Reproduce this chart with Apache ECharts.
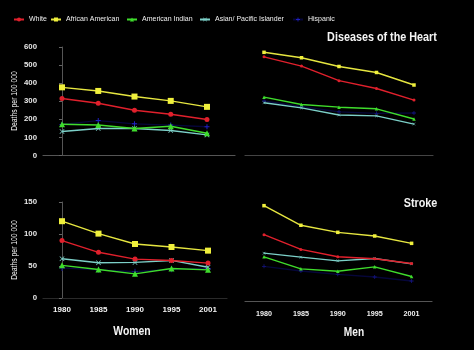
<!DOCTYPE html>
<html><head><meta charset="utf-8">
<script src="https://cdn.jsdelivr.net/npm/echarts@6/dist/echarts.min.js"></script>
<style>html,body{margin:0;padding:0;background:#000}#c{width:474px;height:350px}</style>
</head><body><div id="c"></div><script>
const years = ['1980', '1985', '1990', '1995', '2001'];
const groups = ['White', 'African American', 'American Indian', 'Asian/ Pacific Islander', 'Hispanic'];
const heartTicks = [0, 100, 200, 300, 400, 500, 600];
const strokeTicks = [0, 50, 100, 150];

// Women, diseases of the heart
const womenHeartWhite = [315, 289, 250, 228, 199];
const womenHeartAfrAm = [377, 357, 326, 302, 269];
const womenHeartAmInd = [173, 169, 149, 162, 123];
const womenHeartAsian = [133, 149, 149, 138, 114];
const womenHeartHisp  = [172, 193, 175, 168, 159];
// Men, diseases of the heart
const menHeartWhite = [543, 492, 412, 369, 305];
const menHeartAfrAm = [568, 538, 490, 457, 388];
const menHeartAmInd = [321, 281, 266, 257, 201];
const menHeartAsian = [290, 262, 223, 218, 173];
const menHeartHisp  = [300, 270, 240, 232, 234];
// Women, stroke
const womenStrokeWhite = [89.7, 71.4, 60.8, 58.7, 54.5];
const womenStrokeAfrAm = [120, 100.6, 84.4, 79.7, 74];
const womenStrokeAmInd = [51, 44.6, 37.7, 46, 44];
const womenStrokeAsian = [61.3, 55, 55.6, 58.7, 48];
const womenStrokeHisp  = [47, 44, 41, 45, 46];
// Men, stroke
const menStrokeWhite = [99.5, 77.4, 66.3, 63.3, 56.3];
const menStrokeAfrAm = [143, 113.6, 103, 97.5, 86.5];
const menStrokeAmInd = [66.3, 48.2, 44.7, 51.2, 36.7];
const menStrokeAsian = [71.8, 65.8, 60.2, 63.8, 55.7];
const menStrokeHisp  = [52, 45, 40, 36, 30];

const SANS = "'Liberation Sans',Arial,sans-serif";
const colors = ['#e0202c', '#f0f03c', '#3fdc2c', '#7cd0c8', '#2020c0'];
const lineColors = ['#e0202c', '#e6e640', '#3fdc2c', '#7cd0c8', '#06063a'];
const hispDark = '#14147e';
const plus = 'path://M4,0L6,0L6,4L10,4L10,6L6,6L6,10L4,10L4,6L0,6L0,4L4,4Z';
const cross = 'path://M1,0L5,4L9,0L10,1L6,5L10,9L9,10L5,6L1,10L0,9L4,5L0,1Z';
const symbols = ['circle', 'rect', 'triangle', cross, plus];
const bigSizes = [5, 6, 6, 5, 6];
const smallSizes = [3, 3.5, 3.5, 3, 4];

const panels = [
  [womenHeartWhite, womenHeartAfrAm, womenHeartAmInd, womenHeartAsian, womenHeartHisp],
  [womenStrokeWhite, womenStrokeAfrAm, womenStrokeAmInd, womenStrokeAsian, womenStrokeHisp],
  [menHeartWhite, menHeartAfrAm, menHeartAmInd, menHeartAsian, menHeartHisp],
  [menStrokeWhite, menStrokeAfrAm, menStrokeAmInd, menStrokeAsian, menStrokeHisp]
];

const grids = [
  {left: 43, top: 47, width: 192, height: 108.5},
  {left: 43, top: 202, width: 184, height: 96},
  {left: 245, top: 46.5, width: 188, height: 109},
  {left: 245, top: 201, width: 187, height: 100}
];
const xRanges = [[-0.524, 4.773], [-0.52, 4.52], [-0.507, 4.507], [-0.515, 4.553]];
const xLineColors = ['#555', '#2a2a2a', '#444', '#555'];

const xAxes = grids.map((g, i) => ({
  type: 'value', gridIndex: i, min: xRanges[i][0], max: xRanges[i][1],
  splitLine: {show: false},
  axisLine: {show: true, lineStyle: {color: xLineColors[i], width: 1.2}},
  axisTick: {show: false},
  axisLabel: {
    show: i === 1 || i === 3,
    customValues: [0, 1, 2, 3, 4],
    formatter: v => years[Math.round(v)],
    color: '#f2f2f2', fontWeight: 'bold',
    fontSize: i === 1 ? 8 : 7.2,
    fontFamily: SANS,
    margin: i === 1 ? 8 : 10
  }
}));

const yAxes = grids.map((g, i) => {
  const heart = i === 0 || i === 2;
  const left = i < 2;
  return {
    type: 'value', gridIndex: i, min: 0, max: heart ? 600 : 150, interval: heart ? 100 : 50,
    splitLine: {show: false},
    axisLine: {show: left, lineStyle: {color: '#555'}},
    axisTick: {show: left, length: 3, lineStyle: {color: '#666'}},
    axisLabel: {show: left, color: '#e8e8e8', fontWeight: 'bold', fontSize: 7.8, fontFamily: SANS, margin: 6,
      customValues: heart ? heartTicks : strokeTicks}
  };
});

const series = [];
panels.forEach((panel, p) => {
  panel.forEach((vals, k) => {
    const hisp = k === 4;
    series.push({
      name: groups[k], type: 'line', xAxisIndex: p, yAxisIndex: p,
      data: vals.map((v, j) => [j, v]),
      symbol: symbols[k],
      symbolSize: p < 2 ? bigSizes[k] : smallSizes[k],
      showSymbol: true,
      lineStyle: {color: lineColors[k], width: 1.4},
      itemStyle: {color: colors[k]},
      emphasis: {disabled: true},
      z: 10 - k,
      animation: false
    });
  });
});
// darken Hispanic markers on the plots (legend keeps the brighter blue from the first series)
series.forEach((s, idx) => { if (s.name === 'Hispanic' && idx > 4) s.itemStyle = {color: hispDark}; });
series[4].itemStyle = {color: colors[4]};
series[4].symbolSize = 5;

const legendPos = [8, 45, 121, 194, 287];
const legends = groups.map((g, k) => ({
  data: [g], left: legendPos[k], top: 11, itemWidth: 10, itemHeight: 5, itemGap: 0,
  textStyle: {color: '#f0f0f0', fontSize: 7, fontFamily: SANS},
  selectedMode: false
}));

const T = (text, x, y, size, weight, sx, rot) => ({
  type: 'text', x: x, y: y, scaleX: sx, rotation: rot || 0,
  style: {text: text, fill: '#f4f4f4', font: weight + ' ' + size + 'px ' + SANS, align: 'center', verticalAlign: 'middle'}
});

const chart = echarts.init(document.getElementById('c'), null, {renderer: 'canvas'});
chart.setOption({
  backgroundColor: '#000',
  animation: false,
  legend: legends,
  grid: grids,
  xAxis: xAxes,
  yAxis: yAxes,
  series: series,
  graphic: [
    T('Diseases of the Heart', 382, 37, 13.5, 'bold', 0.8),
    T('Stroke', 420.5, 203, 13.5, 'bold', 0.8),
    T('Women', 132, 331, 13, 'bold', 0.8),
    T('Men', 354, 332, 13, 'bold', 0.78),
    T('Deaths per 100 000', 15, 101, 8.5, 'normal', 0.8, Math.PI / 2),
    T('Deaths per 100 000', 15, 250, 8.5, 'normal', 0.8, Math.PI / 2)
  ]
});
</script></body></html>
